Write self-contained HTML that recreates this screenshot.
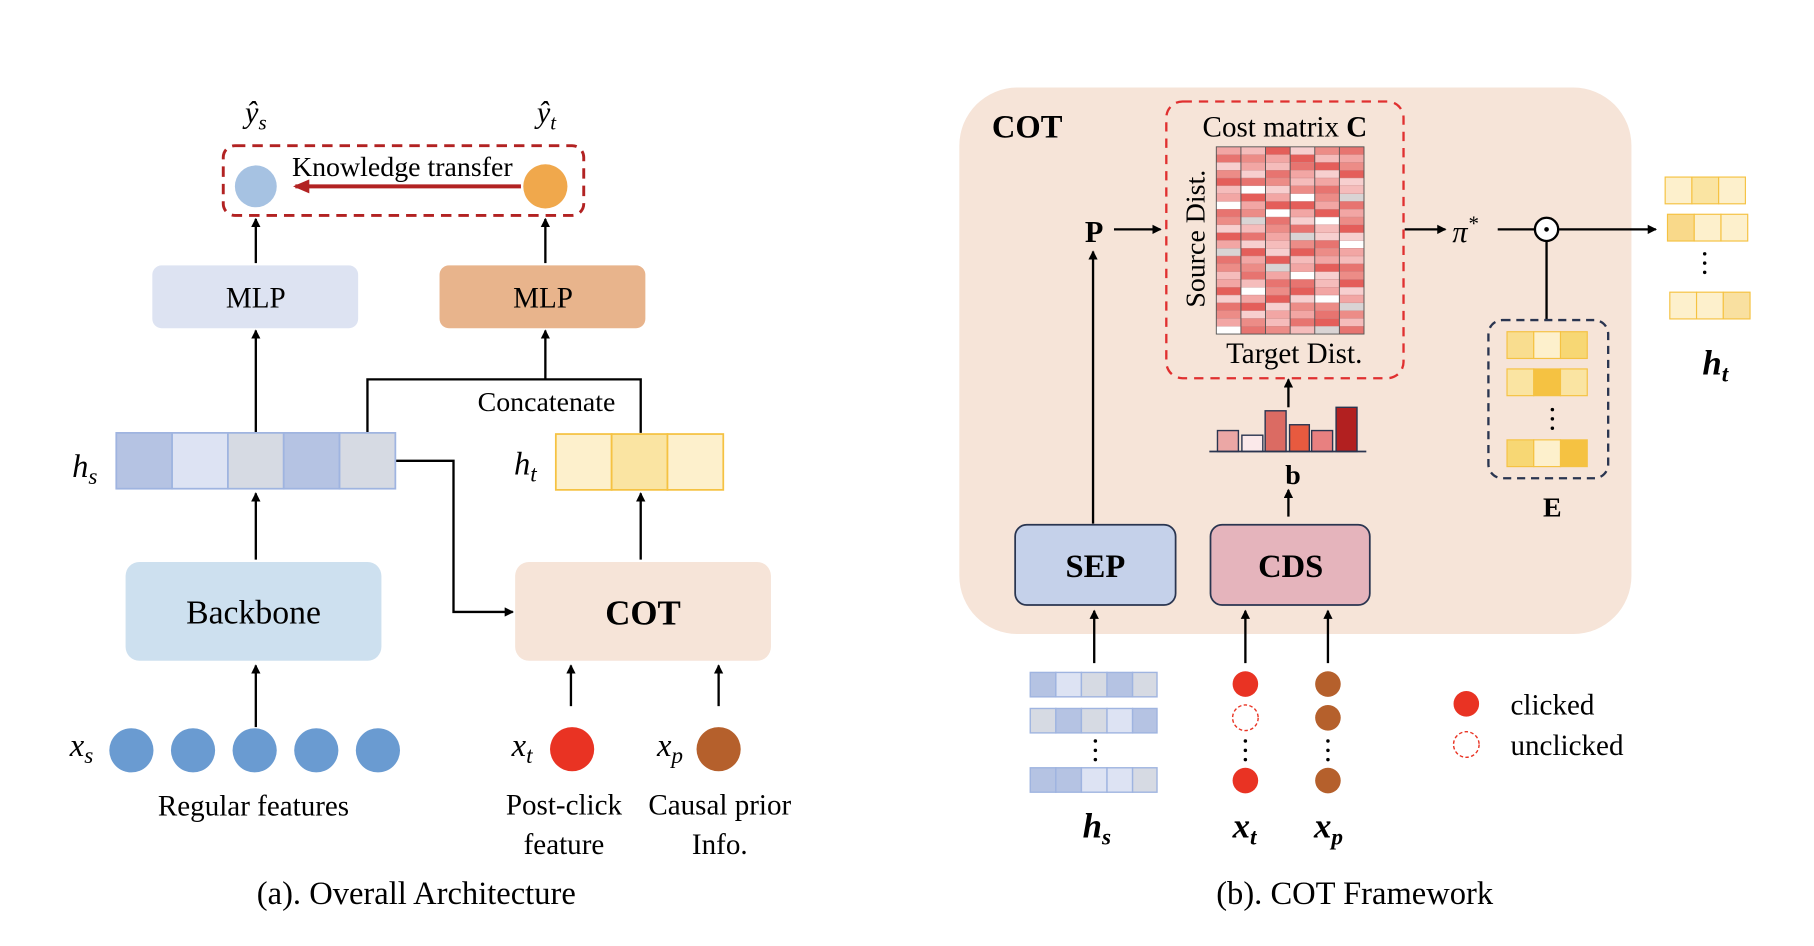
<!DOCTYPE html>
<html><head><meta charset="utf-8"><style>html,body{margin:0;padding:0;background:#fff}svg{display:block}
#hm rect{width:21.17px;height:6.71px;stroke:#c88;stroke-width:0.3px}
.a{fill:#f2a6a4}.b{fill:#e77470}.c{fill:#f7cfcf}.d{fill:#ffffff}.e{fill:#ec8c87}.f{fill:#d9d4d4}.g{fill:#e45e5a}.h{fill:#f5bcbb}
</style></head><body>
<svg width="1814" height="946" viewBox="0 0 1560 813" xmlns="http://www.w3.org/2000/svg" font-family="Liberation Serif, serif">
<defs>
<marker id="ah" markerWidth="8" markerHeight="8" refX="7" refY="4" orient="auto" markerUnits="userSpaceOnUse"><path d="M0,0 L8,4 L0,8 Z" fill="#000"/></marker>
<marker id="ar" markerWidth="14" markerHeight="12" refX="12" refY="6" orient="auto" markerUnits="userSpaceOnUse"><path d="M0,0 L14,6 L0,12 Z" fill="#b22222"/></marker>
</defs>
<g stroke="#000" stroke-width="2" fill="none" marker-end="url(#ah)">
<line x1="220" y1="226" x2="220" y2="188"/><line x1="469" y1="226" x2="469" y2="188"/>
<line x1="220" y1="372" x2="220" y2="284"/><line x1="469" y1="326" x2="469" y2="284"/>
<line x1="220" y1="481" x2="220" y2="424"/><line x1="551" y1="481" x2="551" y2="424"/>
<polyline points="340,396 390,396 390,526 441,526"/>
<line x1="220" y1="625" x2="220" y2="572"/><line x1="491" y1="607" x2="491" y2="572"/><line x1="618" y1="607" x2="618" y2="572"/>
</g>
<polyline points="316,372 316,326 551,326 551,372" stroke="#000" stroke-width="2" fill="none"/>
<rect x="192" y="125" width="310" height="60" rx="10" fill="none" stroke="#b22222" stroke-width="2.5" stroke-dasharray="9,6"/>
<circle cx="220" cy="160" r="18" fill="#a6c2e2"/><circle cx="469" cy="160" r="19" fill="#f0a84c"/>
<line x1="448" y1="160" x2="254" y2="160" stroke="#b22222" stroke-width="3.5" marker-end="url(#ar)"/>
<text x="346" y="151" font-size="24" text-anchor="middle">Knowledge transfer</text>
<text x="220" y="105" font-size="26" font-style="italic" text-anchor="middle">ŷ<tspan font-size="18" dy="6">s</tspan></text>
<text x="470" y="105" font-size="26" font-style="italic" text-anchor="middle">ŷ<tspan font-size="18" dy="6">t</tspan></text>
<rect x="131" y="228" width="177" height="54" rx="8" fill="#dde3f2"/><text x="220" y="264" font-size="25" text-anchor="middle">MLP</text>
<rect x="378" y="228" width="177" height="54" rx="8" fill="#e8b48c"/><text x="467" y="264" font-size="25" text-anchor="middle">MLP</text>
<text x="470" y="353" font-size="24" text-anchor="middle">Concatenate</text>
<g stroke="#9fb4e0" stroke-width="1.5"><rect x="100" y="372" width="48" height="48" fill="#b5c3e3"/><rect x="148" y="372" width="48" height="48" fill="#dde3f3"/><rect x="196" y="372" width="48" height="48" fill="#d6dae3"/><rect x="244" y="372" width="48" height="48" fill="#b5c3e3"/><rect x="292" y="372" width="48" height="48" fill="#d6dae3"/></g>
<text x="62" y="410" font-size="28" font-style="italic">h<tspan font-size="20" dy="6">s</tspan></text>
<g stroke="#f5c242" stroke-width="1.5"><rect x="478" y="373" width="48" height="48" fill="#fdf0cc"/><rect x="526" y="373" width="48" height="48" fill="#fae4a2"/><rect x="574" y="373" width="48" height="48" fill="#fdf0cc"/></g>
<text x="442" y="408" font-size="28" font-style="italic">h<tspan font-size="20" dy="6">t</tspan></text>
<rect x="108" y="483" width="220" height="85" rx="12" fill="#cde0ef"/><text x="218" y="536" font-size="29" text-anchor="middle">Backbone</text>
<rect x="443" y="483" width="220" height="85" rx="12" fill="#f6e4d8"/><text x="553" y="537" font-size="30" font-weight="bold" text-anchor="middle">COT</text>
<g fill="#6a9bd1"><circle cx="113" cy="645" r="19"/><circle cx="166" cy="645" r="19"/><circle cx="219" cy="645" r="19"/><circle cx="272" cy="645" r="19"/><circle cx="325" cy="645" r="19"/></g>
<circle cx="492" cy="644" r="19" fill="#e93323"/><circle cx="618" cy="644" r="19" fill="#b5602c"/>
<text x="60" y="650" font-size="28" font-style="italic">x<tspan font-size="20" dy="6">s</tspan></text>
<text x="440" y="650" font-size="28" font-style="italic">x<tspan font-size="20" dy="6">t</tspan></text>
<text x="565" y="650" font-size="28" font-style="italic">x<tspan font-size="20" dy="6">p</tspan></text>
<g font-size="25" text-anchor="middle"><text x="218" y="701">Regular features</text><text x="485" y="700">Post-click</text><text x="485" y="734">feature</text><text x="619" y="700">Causal prior</text><text x="619" y="734">Info.</text>
<text x="358" y="777" font-size="28">(a). Overall Architecture</text><text x="1165" y="777" font-size="28">(b). COT Framework</text></g>
<!-- right -->
<rect x="825" y="75" width="578" height="470" rx="50" fill="#f6e4d8"/>
<text x="853" y="118" font-size="28" font-weight="bold">COT</text>
<rect x="1003" y="87" width="204" height="238" rx="14" fill="none" stroke="#e03030" stroke-width="2" stroke-dasharray="8,6"/>
<text x="1105" y="117" font-size="25" text-anchor="middle">Cost matrix <tspan font-weight="bold">C</tspan></text>
<g id="hm">
<g transform="translate(1046,126)"><rect y="0" class="a"/><rect y="6.71" class="b"/><rect y="13.42" class="c"/><rect y="20.13" class="e"/><rect y="26.84" class="g"/><rect y="33.55" class="h"/><rect y="40.26" class="a"/><rect y="46.97" class="d"/><rect y="53.68" class="b"/><rect y="60.39" class="e"/><rect y="67.1" class="c"/><rect y="73.81" class="g"/><rect y="80.52" class="a"/><rect y="87.23" class="f"/><rect y="93.94" class="b"/><rect y="100.65" class="e"/><rect y="107.36" class="h"/><rect y="114.07" class="a"/><rect y="120.78" class="g"/><rect y="127.49" class="c"/><rect y="134.2" class="b"/><rect y="140.91" class="e"/><rect y="147.62" class="a"/><rect y="154.33" class="d"/></g>
<g transform="translate(1067.17,126)"><rect y="0" class="h"/><rect y="6.71" class="e"/><rect y="13.42" class="a"/><rect y="20.13" class="c"/><rect y="26.84" class="b"/><rect y="33.55" class="d"/><rect y="40.26" class="g"/><rect y="46.97" class="a"/><rect y="53.68" class="e"/><rect y="60.39" class="f"/><rect y="67.1" class="h"/><rect y="73.81" class="b"/><rect y="80.52" class="c"/><rect y="87.23" class="g"/><rect y="93.94" class="a"/><rect y="100.65" class="e"/><rect y="107.36" class="b"/><rect y="114.07" class="h"/><rect y="120.78" class="d"/><rect y="127.49" class="a"/><rect y="134.2" class="g"/><rect y="140.91" class="c"/><rect y="147.62" class="e"/><rect y="154.33" class="b"/></g>
<g transform="translate(1088.33,126)"><rect y="0" class="g"/><rect y="6.71" class="a"/><rect y="13.42" class="h"/><rect y="20.13" class="b"/><rect y="26.84" class="e"/><rect y="33.55" class="c"/><rect y="40.26" class="a"/><rect y="46.97" class="g"/><rect y="53.68" class="d"/><rect y="60.39" class="b"/><rect y="67.1" class="e"/><rect y="73.81" class="a"/><rect y="80.52" class="h"/><rect y="87.23" class="c"/><rect y="93.94" class="g"/><rect y="100.65" class="f"/><rect y="107.36" class="a"/><rect y="114.07" class="b"/><rect y="120.78" class="e"/><rect y="127.49" class="g"/><rect y="134.2" class="c"/><rect y="140.91" class="a"/><rect y="147.62" class="h"/><rect y="154.33" class="e"/></g>
<g transform="translate(1109.5,126)"><rect y="0" class="c"/><rect y="6.71" class="g"/><rect y="13.42" class="b"/><rect y="20.13" class="a"/><rect y="26.84" class="h"/><rect y="33.55" class="e"/><rect y="40.26" class="d"/><rect y="46.97" class="g"/><rect y="53.68" class="a"/><rect y="60.39" class="c"/><rect y="67.1" class="b"/><rect y="73.81" class="f"/><rect y="80.52" class="e"/><rect y="87.23" class="g"/><rect y="93.94" class="h"/><rect y="100.65" class="a"/><rect y="107.36" class="d"/><rect y="114.07" class="b"/><rect y="120.78" class="g"/><rect y="127.49" class="c"/><rect y="134.2" class="e"/><rect y="140.91" class="a"/><rect y="147.62" class="b"/><rect y="154.33" class="h"/></g>
<g transform="translate(1130.67,126)"><rect y="0" class="e"/><rect y="6.71" class="h"/><rect y="13.42" class="g"/><rect y="20.13" class="c"/><rect y="26.84" class="a"/><rect y="33.55" class="b"/><rect y="40.26" class="e"/><rect y="46.97" class="a"/><rect y="53.68" class="g"/><rect y="60.39" class="d"/><rect y="67.1" class="h"/><rect y="73.81" class="c"/><rect y="80.52" class="b"/><rect y="87.23" class="e"/><rect y="93.94" class="a"/><rect y="100.65" class="g"/><rect y="107.36" class="c"/><rect y="114.07" class="h"/><rect y="120.78" class="a"/><rect y="127.49" class="d"/><rect y="134.2" class="e"/><rect y="140.91" class="b"/><rect y="147.62" class="g"/><rect y="154.33" class="f"/></g>
<g transform="translate(1151.83,126)"><rect y="0" class="b"/><rect y="6.71" class="a"/><rect y="13.42" class="e"/><rect y="20.13" class="g"/><rect y="26.84" class="c"/><rect y="33.55" class="h"/><rect y="40.26" class="f"/><rect y="46.97" class="b"/><rect y="53.68" class="a"/><rect y="60.39" class="e"/><rect y="67.1" class="g"/><rect y="73.81" class="c"/><rect y="80.52" class="d"/><rect y="87.23" class="a"/><rect y="93.94" class="h"/><rect y="100.65" class="b"/><rect y="107.36" class="e"/><rect y="114.07" class="g"/><rect y="120.78" class="c"/><rect y="127.49" class="a"/><rect y="134.2" class="f"/><rect y="140.91" class="e"/><rect y="147.62" class="h"/><rect y="154.33" class="b"/></g>
<rect x="1046" y="126" width="127" height="161" fill="none" stroke="#555" stroke-width="0.8" style="width:127px;height:161px;stroke:#555;stroke-width:0.8px"/>
<g stroke="#555" stroke-width="0.8"><line x1="1067.17" y1="126" x2="1067.17" y2="287"/><line x1="1088.33" y1="126" x2="1088.33" y2="287"/><line x1="1109.5" y1="126" x2="1109.5" y2="287"/><line x1="1130.67" y1="126" x2="1130.67" y2="287"/><line x1="1151.83" y1="126" x2="1151.83" y2="287"/></g>
</g>
<text transform="translate(1036,205) rotate(-90)" font-size="24" text-anchor="middle">Source Dist.</text>
<text x="1113" y="312" font-size="25" text-anchor="middle">Target Dist.</text>
<text x="933" y="208" font-size="26" font-weight="bold">P</text>
<g stroke="#000" stroke-width="2" fill="none" marker-end="url(#ah)">
<line x1="958" y1="197" x2="998" y2="197"/><line x1="940" y1="450" x2="940" y2="216"/>
<line x1="1208" y1="197" x2="1243" y2="197"/><line x1="1340" y1="197" x2="1424" y2="197"/>
<line x1="1108" y1="350" x2="1108" y2="326"/><line x1="1108" y1="444" x2="1108" y2="421"/>
<line x1="941" y1="570" x2="941" y2="525"/><line x1="1071" y1="570" x2="1071" y2="525"/><line x1="1142" y1="570" x2="1142" y2="525"/>
</g>
<text x="1249" y="208" font-size="26" font-style="italic">π<tspan font-size="18" dy="-10">*</tspan></text>
<line x1="1288" y1="197" x2="1320" y2="197" stroke="#000" stroke-width="2"/>
<line x1="1330" y1="207" x2="1330" y2="275" stroke="#000" stroke-width="2"/>
<circle cx="1330" cy="197" r="10" fill="#fff" stroke="#000" stroke-width="2"/><circle cx="1330" cy="197" r="2" fill="#000"/>
<rect x="1280" y="275" width="103" height="136" rx="12" fill="none" stroke="#2a3550" stroke-width="2" stroke-dasharray="7,5"/>
<g stroke="#f5c242" stroke-width="1"><rect x="1296" y="285" width="23" height="23" fill="#f9dd8f"/><rect x="1319" y="285" width="23" height="23" fill="#fdf0cc"/><rect x="1342" y="285" width="23" height="23" fill="#f7d774"/>
<rect x="1296" y="317" width="23" height="23" fill="#fae4a2"/><rect x="1319" y="317" width="23" height="23" fill="#f5c242"/><rect x="1342" y="317" width="23" height="23" fill="#fae4a2"/>
<rect x="1296" y="378" width="23" height="23" fill="#f7d774"/><rect x="1319" y="378" width="23" height="23" fill="#fdf0cc"/><rect x="1342" y="378" width="23" height="23" fill="#f5c242"/>
<rect x="1432" y="152" width="23" height="23" fill="#fdf0cc"/><rect x="1455" y="152" width="23" height="23" fill="#fae4a2"/><rect x="1478" y="152" width="23" height="23" fill="#fdf0cc"/>
<rect x="1434" y="184" width="23" height="23" fill="#f9d98a"/><rect x="1457" y="184" width="23" height="23" fill="#fdf0cc"/><rect x="1480" y="184" width="23" height="23" fill="#fdf0cc"/>
<rect x="1436" y="251" width="23" height="23" fill="#fdf0cc"/><rect x="1459" y="251" width="23" height="23" fill="#fdf0cc"/><rect x="1482" y="251" width="23" height="23" fill="#f9e0a0"/></g>
<g fill="#000"><circle cx="1335" cy="352" r="1.5"/><circle cx="1335" cy="360" r="1.5"/><circle cx="1335" cy="368" r="1.5"/>
<circle cx="1466" cy="218" r="1.5"/><circle cx="1466" cy="226" r="1.5"/><circle cx="1466" cy="234" r="1.5"/>
<circle cx="942" cy="637" r="1.5"/><circle cx="942" cy="645" r="1.5"/><circle cx="942" cy="653" r="1.5"/>
<circle cx="1071" cy="637" r="1.5"/><circle cx="1071" cy="645" r="1.5"/><circle cx="1071" cy="653" r="1.5"/>
<circle cx="1142" cy="637" r="1.5"/><circle cx="1142" cy="645" r="1.5"/><circle cx="1142" cy="653" r="1.5"/></g>
<text x="1335" y="444" font-size="24" font-weight="bold" text-anchor="middle">E</text>
<text x="1464" y="322" font-size="30" font-weight="bold" font-style="italic">h<tspan font-size="20" dy="6">t</tspan></text>
<g stroke="#2a3550" stroke-width="1.2"><rect x="1047" y="370" width="18" height="18" fill="#eba7a5"/><rect x="1068" y="374" width="18" height="14" fill="#fbe9ea"/><rect x="1088" y="353" width="18" height="35" fill="#db6b63"/><rect x="1109" y="365" width="17" height="23" fill="#e85a3f"/><rect x="1128" y="370" width="18" height="18" fill="#e88080"/><rect x="1149" y="350" width="18" height="38" fill="#b22020"/></g>
<line x1="1040" y1="388" x2="1175" y2="388" stroke="#2a3550" stroke-width="1.5"/>
<text x="1112" y="416" font-size="24" font-weight="bold" text-anchor="middle">b</text>
<rect x="873" y="451" width="138" height="69" rx="10" fill="#c5d1ea" stroke="#2a3550" stroke-width="1.5"/><text x="942" y="496" font-size="28" font-weight="bold" text-anchor="middle">SEP</text>
<rect x="1041" y="451" width="137" height="69" rx="10" fill="#e5b4bc" stroke="#2a3550" stroke-width="1.5"/><text x="1110" y="496" font-size="28" font-weight="bold" text-anchor="middle">CDS</text>
<g stroke="#9fb4e0" stroke-width="1.2">
<rect x="886" y="578" width="22" height="21" fill="#b5c3e3"/><rect x="908" y="578" width="22" height="21" fill="#dde3f3"/><rect x="930" y="578" width="22" height="21" fill="#d6dae3"/><rect x="952" y="578" width="22" height="21" fill="#b5c3e3"/><rect x="974" y="578" width="21" height="21" fill="#d6dae3"/>
<rect x="886" y="609" width="22" height="21" fill="#d6dae3"/><rect x="908" y="609" width="22" height="21" fill="#b5c3e3"/><rect x="930" y="609" width="22" height="21" fill="#d6dae3"/><rect x="952" y="609" width="22" height="21" fill="#dde3f3"/><rect x="974" y="609" width="21" height="21" fill="#b5c3e3"/>
<rect x="886" y="660" width="22" height="21" fill="#b5c3e3"/><rect x="908" y="660" width="22" height="21" fill="#b5c3e3"/><rect x="930" y="660" width="22" height="21" fill="#dde3f3"/><rect x="952" y="660" width="22" height="21" fill="#dde3f3"/><rect x="974" y="660" width="21" height="21" fill="#d6dae3"/></g>
<circle cx="1071" cy="588" r="11" fill="#e93323"/><circle cx="1071" cy="617" r="11" fill="none" stroke="#e93323" stroke-width="1.2" stroke-dasharray="3,2"/><circle cx="1071" cy="671" r="11" fill="#e93323"/>
<g fill="#b5602c"><circle cx="1142" cy="588" r="11"/><circle cx="1142" cy="617" r="11"/><circle cx="1142" cy="671" r="11"/></g>
<g font-size="30" font-weight="bold" font-style="italic"><text x="931" y="720">h<tspan font-size="20" dy="6">s</tspan></text><text x="1060" y="720">x<tspan font-size="20" dy="6">t</tspan></text><text x="1130" y="720">x<tspan font-size="20" dy="6">p</tspan></text></g>
<circle cx="1261" cy="605" r="11" fill="#e93323"/><circle cx="1261" cy="640" r="11" fill="none" stroke="#e93323" stroke-width="1.2" stroke-dasharray="3,2"/>
<text x="1299" y="614" font-size="25">clicked</text><text x="1299" y="649" font-size="25">unclicked</text>
</svg>
</body></html>
